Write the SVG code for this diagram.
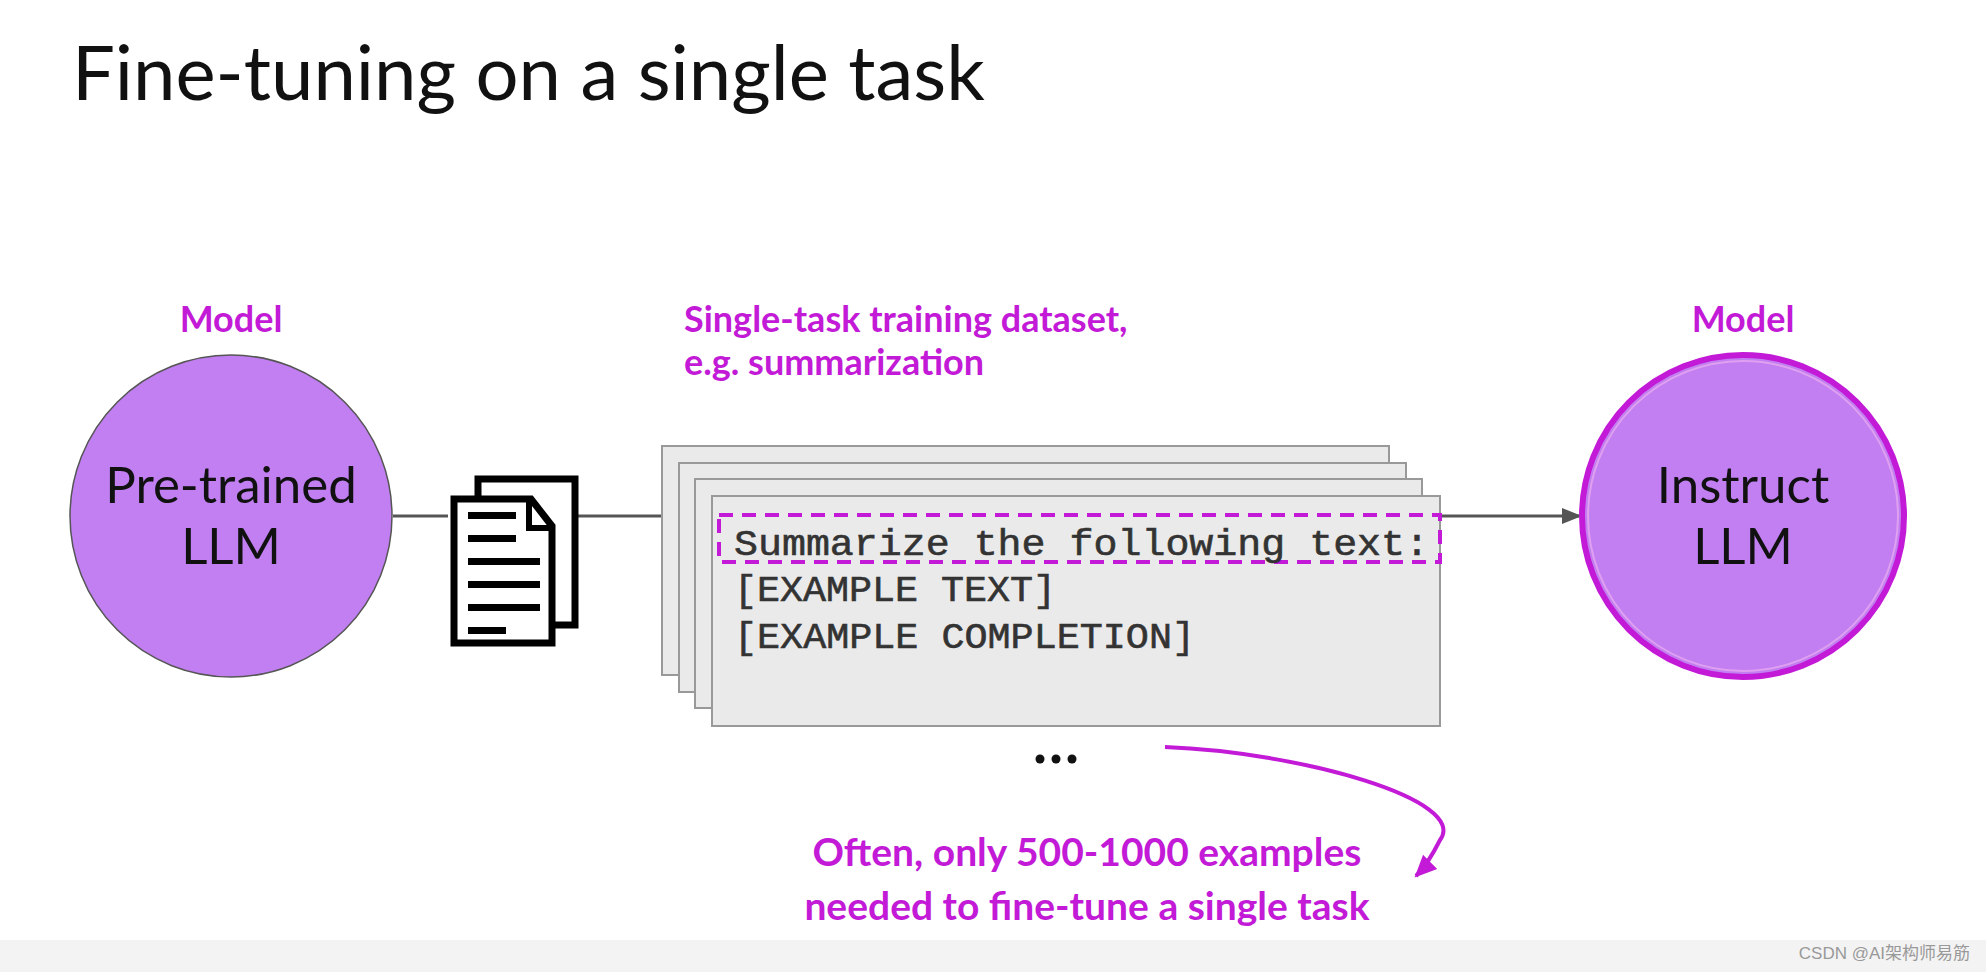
<svg xmlns="http://www.w3.org/2000/svg" width="1986" height="972" viewBox="0 0 1986 972">
<style>
.lbl{font-family:Lato,"Liberation Sans",sans-serif;font-weight:bold;fill:#c21ad6;font-size:36px}
.big{font-family:Lato,"Liberation Sans",sans-serif;fill:#111;font-size:51px;text-anchor:middle}
.mono{font-family:"Liberation Mono",monospace;fill:#333;font-size:37px;stroke:#333;stroke-width:0.6}
.card{fill:#eaeaea;stroke:#999;stroke-width:2}
.conn{stroke:#555;stroke-width:3;fill:none}
.bar{fill:#000}
</style>
<defs>
<marker id="ah" markerWidth="20" markerHeight="20" refX="18" refY="10" orient="auto" markerUnits="userSpaceOnUse"><path d="M0,2 L20,10 L0,18 z" fill="#555"/></marker>
<marker id="ahm" markerWidth="24" markerHeight="24" refX="20" refY="12" orient="auto" markerUnits="userSpaceOnUse"><path d="M0,2 L22,12 L0,22 z" fill="#c21ad6"/></marker>
</defs>
<rect width="1986" height="972" fill="#fff"/>
<text x="72" y="100" font-family="Lato,'Liberation Sans',sans-serif" font-size="76" fill="#111">Fine-tuning on a single task</text>
<g id="connectors">
<line class="conn" x1="393" y1="516" x2="448" y2="516"/>
<line class="conn" x1="576" y1="516" x2="664" y2="516"/>
<line class="conn" x1="1440" y1="516" x2="1580" y2="516" marker-end="url(#ah)"/>
<path d="M1165 747 C1300 752,1470 800,1440 840 C1432 856,1426 866,1416 876" fill="none" stroke="#c21ad6" stroke-width="4" marker-end="url(#ahm)"/>
</g>
<g id="pretrained">
<text class="lbl" x="231" y="332" text-anchor="middle">Model</text>
<circle cx="231" cy="516" r="161" fill="#c17ff2" stroke="#555" stroke-width="1.5"/>
<text class="big" x="231" y="503">Pre-trained</text>
<text class="big" x="231" y="564">LLM</text>
</g>
<g id="doc">
<rect x="478" y="479" width="97" height="146" fill="#fff" stroke="#000" stroke-width="7"/>
<path d="M454 499 H531 L552 526 V643 H454 Z" fill="#fff" stroke="#000" stroke-width="7"/>
<path d="M529 499 V528 H552" fill="none" stroke="#000" stroke-width="6"/>
<rect class="bar" x="468" y="512" width="48" height="7"/>
<rect class="bar" x="468" y="535" width="48" height="7"/>
<rect class="bar" x="468" y="558" width="72" height="7"/>
<rect class="bar" x="468" y="581" width="72" height="7"/>
<rect class="bar" x="468" y="604" width="72" height="7"/>
<rect class="bar" x="468" y="627" width="38" height="7"/>
</g>
<g id="dataset">
<text class="lbl" x="684" y="332">Single-task training dataset,</text>
<text class="lbl" x="684" y="375">e.g. summarization</text>
<rect class="card" x="662" y="446" width="727" height="229"/>
<rect class="card" x="679" y="463" width="727" height="229"/>
<rect class="card" x="695" y="479" width="727" height="229"/>
<rect class="card" x="712" y="496" width="728" height="230"/>
<rect x="719" y="515" width="721" height="47" fill="none" stroke="#c21ad6" stroke-width="4" stroke-dasharray="14,9"/>
<text class="mono" x="734" y="555" textLength="695" lengthAdjust="spacingAndGlyphs">Summarize the following text:</text>
<text class="mono" x="734" y="601" textLength="322" lengthAdjust="spacingAndGlyphs">[EXAMPLE TEXT]</text>
<text class="mono" x="734" y="648" textLength="461" lengthAdjust="spacingAndGlyphs">[EXAMPLE COMPLETION]</text>
<circle cx="1040" cy="759" r="4.5" fill="#111"/>
<circle cx="1056" cy="759" r="4.5" fill="#111"/>
<circle cx="1072" cy="759" r="4.5" fill="#111"/>
</g>
<g id="instruct">
<text class="lbl" x="1743" y="332" text-anchor="middle">Model</text>
<circle cx="1743" cy="516" r="161" fill="#c17ff2" stroke="#c21ad6" stroke-width="6"/>
<circle cx="1743" cy="516" r="155" fill="none" stroke="#e0a0f0" stroke-width="2"/>
<text class="big" x="1743" y="503">Instruct</text>
<text class="big" x="1743" y="564">LLM</text>
</g>
<g id="note">
<text class="lbl" x="1087" y="866" text-anchor="middle" style="font-size:39px">Often, only 500-1000 examples</text>
<text class="lbl" x="1087" y="920" text-anchor="middle" style="font-size:39px">needed to fine-tune a single task</text>
</g>
<rect x="0" y="940" width="1986" height="32" fill="#f3f3f3"/>
<text x="1970" y="959" text-anchor="end" font-family="'Liberation Sans','Noto Sans CJK SC',sans-serif" font-size="17" fill="#999">CSDN @AI架构师易筋</text>
</svg>
